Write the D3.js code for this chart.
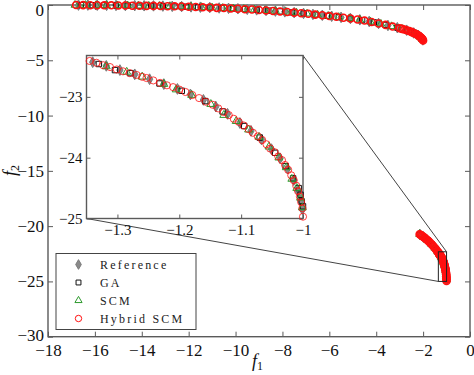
<!DOCTYPE html>
<html><head><meta charset="utf-8">
<script src="https://cdn.jsdelivr.net/npm/d3@7"></script>
<style>body{margin:0;background:#fff}svg{display:block}</style>
</head><body>
<svg id="c" width="474" height="375"></svg>
<script>
// ---- data (f1, f2) ----
const referencePts = [
[-16.7,-0.01],[-16.3,-0.01],[-15.9,-0.02],[-15.5,-0.03],[-15.1,-0.04],[-14.7,-0.05],[-14.3,-0.06],[-13.9,-0.07],[-13.5,-0.08],[-13.1,-0.10],[-12.7,-0.12],[-12.3,-0.14],[-11.9,-0.17],[-11.5,-0.20],[-11.1,-0.23],[-10.7,-0.27],[-10.3,-0.30],[-9.9,-0.34],[-9.5,-0.39],[-9.1,-0.44],[-8.7,-0.49],[-8.3,-0.55],[-7.9,-0.62],[-7.5,-0.69],[-7.1,-0.76],[-6.7,-0.85],[-6.3,-0.93],[-5.9,-1.02],[-5.5,-1.12],[-5.1,-1.22],[-4.7,-1.34],[-4.3,-1.49],[-3.9,-1.67],[-3.5,-1.85],[-3.1,-2.05],[-2.7,-2.28],[-2.4,-2.53],[-2.2,-2.76],[-2.08,-2.98],[-2.01,-3.16],
[-2.14,-20.74],[-2.0,-20.95],[-1.85,-21.20],[-1.7,-21.50],[-1.55,-21.84],[-1.42,-22.19],
[-1.340,-22.43],[-1.318,-22.49],[-1.296,-22.56],[-1.272,-22.63],[-1.248,-22.71],[-1.225,-22.79],[-1.203,-22.87],[-1.182,-22.96],[-1.161,-23.05],[-1.141,-23.16],[-1.122,-23.28],[-1.102,-23.43],[-1.084,-23.56],[-1.067,-23.70],[-1.051,-23.86],[-1.037,-24.01],[-1.025,-24.18],[-1.015,-24.37],[-1.008,-24.55],[-1.004,-24.70],[-1.001,-24.85]
];
const gaPts = [
[-16.6,-0.01],[-16.1,-0.02],[-15.6,-0.03],[-15.1,-0.04],[-14.6,-0.05],[-14.1,-0.07],[-13.6,-0.08],[-13.1,-0.10],[-12.6,-0.12],[-12.1,-0.15],[-11.6,-0.19],[-11.1,-0.23],[-10.6,-0.27],[-10.1,-0.32],[-9.6,-0.38],[-9.1,-0.44],[-8.6,-0.51],[-8.1,-0.58],[-7.6,-0.67],[-7.1,-0.76],[-6.6,-0.87],[-6.1,-0.98],[-5.6,-1.10],[-5.1,-1.22],[-4.6,-1.37],[-4.1,-1.57],[-3.6,-1.80],[-3.1,-2.05],[-2.7,-2.28],[-2.4,-2.53],[-2.18,-2.80],[-2.05,-3.05],
[-2.12,-20.78],[-1.95,-21.04],[-1.78,-21.33],[-1.62,-21.68],[-1.47,-22.05],
[-1.330,-22.46],[-1.304,-22.56],[-1.279,-22.61],[-1.232,-22.78],[-1.196,-22.90],[-1.158,-23.07],[-1.130,-23.24],[-1.095,-23.48],[-1.070,-23.67],[-1.045,-23.92],[-1.028,-24.14],[-1.016,-24.34],[-1.007,-24.50],[-1.004,-24.61],[-1.002,-24.72],[-1.000,-24.80]
];
const scmPts = [
[-16.85,0.00],[-16.4,-0.01],[-15.95,-0.02],[-15.5,-0.03],[-15.05,-0.04],[-14.6,-0.05],[-14.15,-0.07],[-13.7,-0.08],[-13.25,-0.09],[-12.8,-0.11],[-12.35,-0.14],[-11.9,-0.17],[-11.45,-0.20],[-11.0,-0.24],[-10.55,-0.28],[-10.1,-0.32],[-9.65,-0.37],[-9.2,-0.42],[-8.75,-0.49],[-8.3,-0.55],[-7.85,-0.62],[-7.4,-0.70],[-6.95,-0.79],[-6.5,-0.89],[-6.05,-0.99],[-5.6,-1.10],[-5.15,-1.21],[-4.7,-1.34],[-4.25,-1.51],[-3.8,-1.71],[-3.35,-1.93],[-2.9,-2.16],[-2.55,-2.39],[-2.28,-2.65],[-2.12,-2.90],[-2.03,-3.10],
[-2.15,-20.73],[-1.98,-20.98],[-1.82,-21.26],[-1.66,-21.60],[-1.5,-21.97],[-1.38,-22.30],
[-1.318,-22.50],[-1.285,-22.59],[-1.26,-22.67],[-1.225,-22.79],[-1.205,-22.88],[-1.18,-22.97],[-1.149,-23.12],[-1.128,-23.30],[-1.108,-23.40],[-1.088,-23.54],[-1.071,-23.66],[-1.055,-23.82],[-1.039,-24.00],[-1.027,-24.16],[-1.018,-24.35],[-1.010,-24.50],[-1.004,-24.66],[-1.001,-24.82]
];
const hybridPts = [
[-16.8,0.00],[-16.5,-0.01],[-16.2,-0.02],[-15.9,-0.02],[-15.6,-0.03],[-15.3,-0.03],[-15.0,-0.04],[-14.7,-0.05],[-14.4,-0.06],[-14.1,-0.07],[-13.8,-0.08],[-13.5,-0.08],[-13.2,-0.09],[-12.9,-0.11],[-12.6,-0.12],[-12.3,-0.14],[-12.0,-0.16],[-11.7,-0.18],[-11.4,-0.21],[-11.1,-0.23],[-10.8,-0.26],[-10.5,-0.28],[-10.2,-0.31],[-9.9,-0.34],[-9.6,-0.38],[-9.3,-0.41],[-9.0,-0.45],[-8.7,-0.49],[-8.4,-0.54],[-8.1,-0.58],[-7.8,-0.63],[-7.5,-0.69],[-7.2,-0.74],[-6.9,-0.80],[-6.6,-0.87],[-6.3,-0.93],[-6.0,-1.00],[-5.7,-1.07],[-5.4,-1.15],[-5.1,-1.22],[-4.8,-1.31],[-4.5,-1.41],[-4.2,-1.53],[-3.9,-1.67],[-3.6,-1.80],[-3.3,-1.95],[-3.0,-2.10],[-2.9,-2.16],[-2.8,-2.22],[-2.7,-2.28],[-2.6,-2.35],[-2.5,-2.43],[-2.45,-2.48],[-2.38,-2.55],[-2.3,-2.62],[-2.25,-2.69],[-2.2,-2.76],[-2.16,-2.83],[-2.12,-2.90],[-2.09,-2.96],[-2.06,-3.02],[-2.04,-3.07],[-2.02,-3.12],[-2.0,-3.20],
[-2.15,-20.73],[-2.10,-20.80],[-2.05,-20.88],[-2.00,-20.95],[-1.95,-21.03],[-1.90,-21.12],[-1.85,-21.21],[-1.80,-21.30],[-1.75,-21.40],[-1.70,-21.50],[-1.65,-21.61],[-1.60,-21.72],[-1.55,-21.84],[-1.50,-21.97],[-1.45,-22.10],[-1.40,-22.24],[-1.37,-22.33],
[-1.345,-22.41],[-1.334,-22.44],[-1.323,-22.48],[-1.312,-22.51],[-1.301,-22.55],[-1.291,-22.58],[-1.280,-22.61],[-1.269,-22.64],[-1.260,-22.67],[-1.253,-22.69],[-1.242,-22.73],[-1.231,-22.77],[-1.220,-22.81],[-1.210,-22.84],[-1.200,-22.88],[-1.190,-22.92],[-1.179,-22.97],[-1.168,-23.02],[-1.157,-23.08],[-1.146,-23.13],[-1.137,-23.19],[-1.128,-23.25],[-1.120,-23.30],[-1.112,-23.36],[-1.104,-23.41],[-1.096,-23.47],[-1.088,-23.53],[-1.081,-23.59],[-1.073,-23.65],[-1.066,-23.71],[-1.059,-23.78],[-1.053,-23.85],[-1.046,-23.91],[-1.040,-23.98],[-1.034,-24.04],[-1.029,-24.12],[-1.024,-24.20],[-1.019,-24.29],[-1.015,-24.37],[-1.011,-24.46],[-1.008,-24.55],[-1.005,-24.64],[-1.003,-24.73],[-1.001,-24.83],[-1.000,-24.97]
];
const seriesNames = ["Reference","GA","SCM","Hybrid SCM"];
const xTicks = [-18,-16,-14,-12,-10,-8,-6,-4,-2,0];
const yTicks = [0,-5,-10,-15,-20,-25,-30];
const insetXTicks = [-1.3,-1.2,-1.1,-1];
const insetYTicks = [-23,-24,-25];
const xDomain = [-18,0], yDomain = [-30,0];
const insetXDomain = [-1.35,-1], insetYDomain = [-25,-22.32];

// ---- drawing ----
const svg = d3.select("#c");
const M = {l:48, r:470, t:5, b:336.7};
const I = {l:86.5, r:303, t:55.5, b:218.5};
const x = d3.scaleLinear().domain(xDomain).range([M.l,M.r]);
const y = d3.scaleLinear().domain(yDomain).range([M.b,M.t]);
const ix = d3.scaleLinear().domain(insetXDomain).range([I.l,I.r]);
const iy = d3.scaleLinear().domain(insetYDomain).range([I.b,I.t]);
const fmt = d => String(d).replace("-","\u2212");
const font = '"Liberation Serif","Times New Roman","DejaVu Serif",serif';
const frameCol = "#5a5a5a";

const styles = [
  {sym:d3.symbolDiamond, size:32, fill:"#8a8a8a", stroke:"#7a7a7a"},
  {sym:d3.symbolSquare, size:28, fill:"none", stroke:"#111"},
  {sym:d3.symbolTriangle, size:26, fill:"none", stroke:"#2e9a2e"},
  {sym:d3.symbolCircle, size:38, fill:"none", stroke:"#ff1010"}
];
const allSeries = [referencePts, gaPts, scmPts, hybridPts];

function axes(g, xs, ys, xt, yt, L, fs, tl, px){
  g.append("g").attr("transform",`translate(0,${L.b})`)
    .call(d3.axisBottom(xs).tickValues(xt).tickSize(-tl).tickSizeOuter(0).tickPadding(px).tickFormat(fmt));
  g.append("g").attr("transform",`translate(0,${L.t})`)
    .call(d3.axisTop(xs).tickValues(xt).tickSize(-tl).tickSizeOuter(0).tickFormat(""));
  g.append("g").attr("class","yl").attr("transform",`translate(${L.l},0)`)
    .call(d3.axisLeft(ys).tickValues(yt).tickSize(-tl).tickSizeOuter(0).tickPadding(4).tickFormat(fmt));
  g.append("g").attr("transform",`translate(${L.r},0)`)
    .call(d3.axisRight(ys).tickValues(yt).tickSize(-tl).tickSizeOuter(0).tickFormat(""));
  g.selectAll("g").attr("font-family",null).attr("font-size",null);
  g.selectAll(".domain").remove();
  g.selectAll(".tick line").attr("stroke",frameCol);
  g.selectAll(".tick text").style("font-family",font).style("font-size",fs+"px").attr("fill","#111");
  g.append("rect").attr("x",L.l).attr("y",L.t).attr("width",L.r-L.l).attr("height",L.b-L.t)
    .attr("fill","none").attr("stroke",frameCol).attr("stroke-width",1.4);
}

// main axes
const gm = svg.append("g");
axes(gm, x, y, xTicks, yTicks, M, 17, 5, 7);
// keep the top "0" label inside the picture, and "−30" clear of "−18"
gm.selectAll(".yl .tick text").filter(d=>d===0).attr("dy","0.62em");
gm.selectAll(".yl .tick text").filter(d=>d===-30).attr("dy","0.2em");

// main data
allSeries.forEach((pts,i)=>{
  const s = styles[i];
  svg.append("g").selectAll("path").data(pts).join("path")
    .attr("d", d3.symbol(s.sym, s.size))
    .attr("transform", d=>`translate(${x(d[0])},${y(d[1])})`)
    .attr("fill", s.fill).attr("stroke", s.stroke).attr("stroke-width", i===3?1.6:1);
});

// zoom rectangle & connectors
svg.append("rect").attr("x",x(insetXDomain[0])).attr("y",y(insetYDomain[1]))
  .attr("width",x(insetXDomain[1])-x(insetXDomain[0])).attr("height",y(insetYDomain[0])-y(insetYDomain[1]))
  .attr("fill","none").attr("stroke","#222").attr("stroke-width",1);
svg.append("line").attr("x1",I.r).attr("y1",I.t).attr("x2",x(insetXDomain[1])).attr("y2",y(insetYDomain[1]))
  .attr("stroke","#444").attr("stroke-width",1);
svg.append("line").attr("x1",I.l).attr("y1",I.b).attr("x2",x(insetXDomain[0])).attr("y2",y(insetYDomain[0]))
  .attr("stroke","#444").attr("stroke-width",1);

// inset
svg.append("rect").attr("x",I.l).attr("y",I.t).attr("width",I.r-I.l).attr("height",I.b-I.t).attr("fill","#fff");
const gi = svg.append("g");
axes(gi, ix, iy, insetXTicks, insetYTicks, I, 15, 4, 6);
allSeries.forEach((pts,i)=>{
  const s = styles[i];
  const inPts = pts.filter(d=>d[0]>=insetXDomain[0]-0.002 && d[0]<=insetXDomain[1]+0.001 && d[1]>=insetYDomain[0]-0.05 && d[1]<=insetYDomain[1]);
  gi.append("g").selectAll("path").data(inPts).join("path")
    .attr("d", d3.symbol(s.sym, s.size*1.05))
    .attr("transform", d=>`translate(${ix(d[0])},${iy(d[1])})`)
    .attr("fill", s.fill).attr("stroke", s.stroke).attr("stroke-width",1).attr("opacity", i===3?0.8:1);
});

// legend
const lg = svg.append("g");
lg.append("rect").attr("x",56).attr("y",253.5).attr("width",140).attr("height",76)
  .attr("fill","#fff").attr("stroke","#444").attr("stroke-width",1);
seriesNames.forEach((n,i)=>{
  const cy = 264.5 + i*18;
  const s = styles[i];
  lg.append("path").attr("d", d3.symbol(s.sym, s.size*0.85))
    .attr("transform",`translate(78.5,${cy})`)
    .attr("fill", s.fill).attr("stroke", s.stroke).attr("stroke-width",1);
  lg.append("text").attr("x",100).attr("y",cy).attr("dy","0.35em")
    .style("font-family",font).style("font-size","12px").attr("letter-spacing","2.2px").attr("fill","#222").text(n);
});

// axis labels
svg.append("text").attr("x",252).attr("y",367).style("font-family",font).style("font-size","18px")
  .attr("font-style","italic").attr("fill","#111")
  .html('f<tspan style="font-size:12px;font-style:normal" dy="3">1</tspan>');
svg.append("text").attr("transform","translate(16,176) rotate(-90)").style("font-family",font).style("font-size","18px")
  .attr("font-style","italic").attr("fill","#111")
  .html('f<tspan style="font-size:12px;font-style:normal" dy="3">2</tspan>');
</script>
</body></html>
